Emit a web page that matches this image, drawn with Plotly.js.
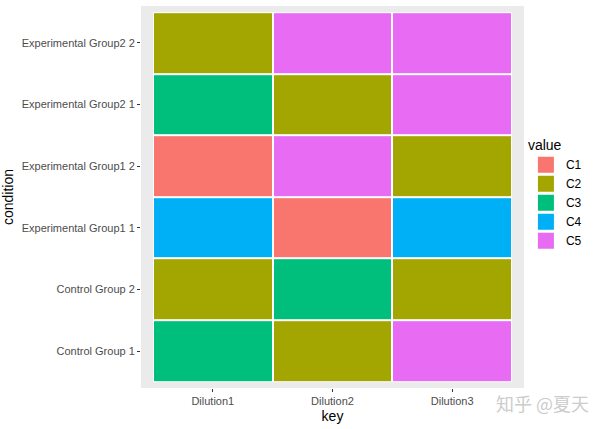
<!DOCTYPE html>
<html>
<head>
<meta charset="utf-8">
<script src="https://cdn.plot.ly/plotly-3.0.1.min.js"></script>
<style>html,body{margin:0;padding:0;background:#fff;}#chart{width:600px;height:429px;}</style>
</head>
<body>
<div id="chart"></div>
<script>
var keys = ['Dilution1', 'Dilution2', 'Dilution3'];
var conditions = ['Control Group 1', 'Control Group 2', 'Experimental Group1 1',
                  'Experimental Group1 2', 'Experimental Group2 1', 'Experimental Group2 2'];
var levels = ['C1', 'C2', 'C3', 'C4', 'C5'];
var levelColors = ['#F8766D', '#A3A500', '#00BF7D', '#00B0F6', '#E76BF3'];
// one row per condition, one entry per key
var cellValues = [
  ['C3', 'C2', 'C5'],
  ['C2', 'C3', 'C2'],
  ['C4', 'C1', 'C4'],
  ['C1', 'C5', 'C2'],
  ['C3', 'C2', 'C5'],
  ['C2', 'C5', 'C5']
];

var zIdx = cellValues.map(function(r){ return r.map(function(v){ return levels.indexOf(v) + 1; }); });
var n = levels.length;
var cs = [];
levelColors.forEach(function(c, i){ cs.push([i / n, c]); cs.push([(i + 1) / n, c]); });

var fontFam = '"Liberation Sans", Arial, sans-serif';
var traces = [
  { type: 'heatmap', x: keys, y: conditions,
    z: cellValues.map(function(r){ return r.map(function(){ return 0; }); }),
    colorscale: [[0, '#FFFFFF'], [1, '#FFFFFF']], showscale: false, hoverinfo: 'skip', showlegend: false },
  { type: 'heatmap', x: keys, y: conditions, z: zIdx, text: cellValues,
    hovertemplate: '%{x}, %{y}: %{text}<extra></extra>',
    colorscale: cs, zmin: 0.5, zmax: n + 0.5, showscale: false, xgap: 2, ygap: 2, showlegend: false }
];
levels.forEach(function(l, i){
  traces.push({ type: 'scatter', mode: 'markers', x: [null], y: [null], name: l,
    marker: { symbol: 'square', size: 16, color: levelColors[i] }, showlegend: true, hoverinfo: 'skip' });
});

var layout = {
  width: 600, height: 429,
  margin: { l: 141, r: 76, t: 6, b: 41 },
  paper_bgcolor: '#FFFFFF', plot_bgcolor: '#EBEBEB',
  font: { family: fontFam, size: 11, color: '#4D4D4D' },
  xaxis: { type: 'category', categoryorder: 'array', categoryarray: keys, range: [-0.6, 2.6],
           showgrid: false, zeroline: false, ticks: 'outside', ticklen: 3, tickcolor: '#333333',
           tickfont: { size: 11, color: '#4D4D4D' },
           title: { text: 'key', font: { size: 14, color: '#000000' }, standoff: 4 } },
  yaxis: { type: 'category', categoryorder: 'array', categoryarray: conditions, range: [-0.6, 5.6],
           showgrid: false, zeroline: false, ticks: 'outside', ticklen: 3, tickcolor: '#333333',
           tickfont: { size: 11, color: '#4D4D4D' },
           title: { text: 'condition', font: { size: 14, color: '#000000' }, standoff: 4 } },
  legend: { x: 1.005, xanchor: 'left', y: 0.67, yanchor: 'top',
            title: { text: 'value', font: { size: 14, color: '#000000' } },
            font: { size: 12, color: '#000000' }, tracegroupgap: 0, itemwidth: 30 },
  annotations: [{ xref: 'paper', yref: 'paper', x: 1.175, y: -0.04, xanchor: 'right', yanchor: 'middle',
                  text: '知乎 @夏天', showarrow: false,
                  font: { family: '"Noto Sans CJK SC", sans-serif', size: 18, color: '#CCCCCC' } }]
};

Plotly.newPlot('chart', traces, layout, { displayModeBar: false, staticPlot: true });
</script>
</body>
</html>
